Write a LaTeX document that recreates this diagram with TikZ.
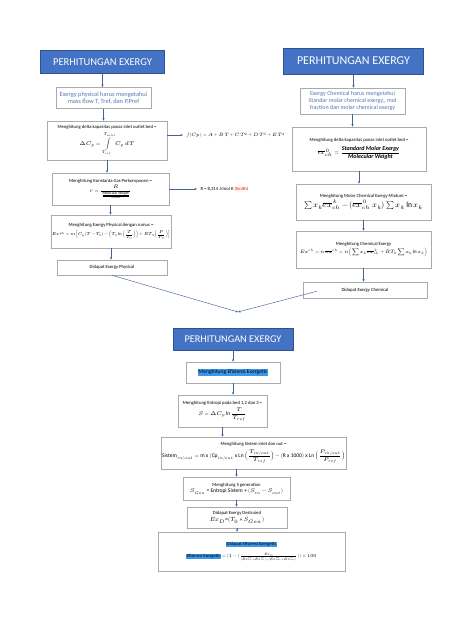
\documentclass[tikz,border=0pt]{standalone}
\usepackage{amsmath}
\usepackage{fontspec}
\usepackage{unicode-math}
\setmainfont{Carlito}
\setmathfont{Latin Modern Math}
\usetikzlibrary{positioning, arrows.meta}
\definecolor{titleblue}{RGB}{68,114,196}
\definecolor{titleedge}{RGB}{47,82,143}
\definecolor{boxedge}{RGB}{170,170,170}
\definecolor{flowblue}{RGB}{65,100,150}
\definecolor{noteblue}{RGB}{85,120,175}
\definecolor{hlblue}{RGB}{60,150,235}
\newcommand{\markhl}[1]{{\setlength{\fboxsep}{0.6pt}\colorbox{hlblue}{#1}}}
\newcommand{\exb}{\overline{ex}}

\begin{document}
\begin{tikzpicture}[x=1pt, y=-1pt, font=\fontsize{4.7}{5.8}\selectfont]
\tikzstyle{titlebox}=[draw=titleedge, fill=titleblue, text=white, inner sep=0pt]
\tikzstyle{stepbox}=[draw=boxedge, line width=0.5pt, fill=white, align=center, inner sep=1pt]
\tikzstyle{flow}=[-{Stealth[length=2.6pt,width=2.2pt]}, draw=flowblue, line width=0.45pt]
\useasboundingbox (0,0) rectangle (474,632);
% physical exergy
\node[titlebox, minimum width=124pt, minimum height=23pt, font=\fontsize{10.5}{12}\selectfont] (tL) at (102.5,62) {PERHITUNGAN EXERGY};
\node[stepbox, minimum width=95pt, minimum height=21pt, text=noteblue, font=\fontsize{6.4}{7.4}\selectfont] (L2) at (103.5,98) {Exergy physical harus mengetahui\\mass flow T, Tref, dan P,Pref};
\node[stepbox, minimum width=120pt, minimum height=39pt] (L3) at (107,140.5) {Menghitung delta kapasitas panas inlet outlet bed =\\[2pt] {\fontsize{5.5}{6.5}\selectfont $\Delta C_p = \displaystyle\int\limits_{T_{ref}}^{T_{inlet}} C_p\,dT$}};
\node[stepbox, minimum width=117pt, minimum height=32pt] (L4) at (110.5,189) {Menghitung Konstanta Gas Perkomponen =\\[1pt] {\fontsize{5.2}{6}\selectfont $r = \dfrac{R}{\frac{\underline{\text{Molecular Weight}}}{1000}}$}};
\node[stepbox, minimum width=117pt, minimum height=33pt] (L5) at (111,231.5) {Menghitung Exergy Physical dengan rumus =\\[2pt] {\fontsize{4.3}{5.5}\selectfont $Ex^{ph} = m\Big[C_p(T-T_0) - \Big(T_0\ln\Big(\dfrac{T}{T_0}\Big)\Big) + RT_0\Big(\dfrac{P}{P_0}\Big)\Big]$}};
\node[stepbox, minimum width=110pt, minimum height=15pt] (L6) at (112,267.5) {Didapat Exergy Physical};
\node (cp) at (194,135) {$\int(Cp)$};
\node (cpf) at (244,135) {$= A + B\,T + C\,T^2 + D\,T^3 + E\,T^4$};
\node[anchor=west] (rgas) at (197,189) {R = 8,314 J/mol K \textcolor{red}{(Smith)}};
\draw[flow] (tL.south) -- (tL.south |- L2.north);
\draw[flow] (L2.south) -- (L2.south |- L3.north);
\draw[flow] (L3.south) -- (L3.south |- L4.north);
\draw[flow] (L4.south) -- (L4.south |- L5.north);
\draw[flow] (L5.south) -- (L5.south |- L6.north);
\draw[flow] (L3.east |- cp) -- (cp);
\draw[flow] (L4.east |- rgas) -- (rgas);
% chemical exergy
\node[titlebox, minimum width=140pt, minimum height=26pt, font=\fontsize{12}{14}\selectfont] (tR) at (353.5,61) {PERHITUNGAN EXERGY};
\node[stepbox, minimum width=105pt, minimum height=26pt, text=noteblue, font=\fontsize{6}{7}\selectfont] (R2) at (352.5,101) {Exergy Chemical harus mengetahui\\Standar molar chemical exergy,, mol\\fraction dan molar chemical exergy};
\node[stepbox, minimum width=134pt, minimum height=44pt] (R3) at (359,149) {Menghitung delta kapasitas panas inlet outlet bed =\\[3pt] {\fontsize{6}{7}\selectfont $\exb^{\,0}_{ch} = \dfrac{\textbf{\textit{Standard Molar Exergy}}}{\textbf{\textit{Molecular Weight}}}$}};
\node[stepbox, minimum width=135pt, minimum height=36pt] (R4) at (363.5,202) {Menghitung Molar Chemical Exergy Mixture =\\[1pt] {\fontsize{7.6}{9}\selectfont $\sum x_k\exb^{\,k}_{ch} - \big(\exb^{\,0}_{ch}\;x_k\big)\sum x_k \ln x_k$}};
\node[stepbox, minimum width=135pt, minimum height=37pt] (R5) at (363.5,249.5) {Menghitung Chemical Exergy\\[1pt] {\fontsize{4.8}{6}\selectfont $Ex^{ch} = \dot{n}\,\exb^{ch} = \dot{n}\Big(\displaystyle\sum x_k\exb^{\,k}_{ch} + \bar{R}T_0\sum x_k\ln x_k\Big)$}};
\node[stepbox, minimum width=124pt, minimum height=16pt] (R6) at (365,290) {Didapat Exergy Chemical};
\draw[flow] (tR.south) -- (tR.south |- R2.north);
\draw[flow] (R2.south) -- (R2.south |- R3.north);
\draw[flow] (R3.south) -- (R3.south |- R4.north);
\draw[flow] (R4.south) -- (R4.south |- R5.north);
\draw[flow] (R5.south) -- (R5.south |- R6.north);
% both results go to the efficiency part
\coordinate (merge) at (238,312);
\draw[flow] (L6.south) -- (merge);
\draw[flow] ([xshift=14pt,yshift=7pt]R6.south west) -- (merge);
% exergetic efficiency
\node[titlebox, minimum width=120pt, minimum height=22pt, font=\fontsize{10.3}{12}\selectfont] (tC) at (233,339) {PERHITUNGAN EXERGY};
\node[stepbox, minimum width=94pt, minimum height=21pt, font=\fontsize{5.6}{6.6}\selectfont] (C2) at (233,372.5) {\markhl{Menghitung Efisiensi Exergetic}};
\node[stepbox, minimum width=89pt, minimum height=32pt] (C3) at (222.5,411) {Menghitung Entropi pada bed 1,2 dan 3 =\\[2pt] {\fontsize{5.5}{6.5}\selectfont $S = \Delta C_p \ln \dfrac{T}{T_{ref}}$}};
\node[stepbox, minimum width=181pt, minimum height=32pt] (C4) at (253.5,453) {Menghitung Sistem inlet dan out =\\[2pt] {\fontsize{5.5}{7}\selectfont $\mathrm{Sistem}_{in/out} = \mathrm{m\ x\ (Cp}_{in/out}\ \mathrm{x\ Ln}\,\Big(\dfrac{T_{in/out}}{T_{ref}}\Big) - \mathrm{(R\ x\ 1000)\ x\ Ln}\,\Big(\dfrac{P_{in/out}}{P_{ref}}\Big)$}};
\node[stepbox, minimum width=107pt, minimum height=23pt] (C5) at (236.5,488.5) {Menghitung S generation\\[1pt] {\fontsize{5.5}{6.5}\selectfont $S_{Gen}$ = Entropi Sistem + $(S_{in} - S_{out})$}};
\node[stepbox, minimum width=100pt, minimum height=21pt] (C6) at (237,517.5) {Didapat Exergy Destruied\\[1pt] {\fontsize{6}{7}\selectfont $Ex_D$=$(T_0 * S_{Gen})$}};
\node[stepbox, minimum width=187pt, minimum height=39pt] (C7) at (251.5,551.5) {\markhl{Didapat Efisiensi Exergetic}\\[5pt] \markhl{Efisiensi Exergetic} $= (1-(\frac{Ex_D}{(Ex^{ph}_{in} + Ex^{ch}_{in}) - (Ex^{ph}_{out} + Ex^{ch}_{out})})) \times 100$};
\draw[flow] (tC.south) -- (tC.south |- C2.north);
\draw[flow] (C2.south) -- (C2.south |- C3.north);
\draw[flow] (C3.south) -- (C3.south |- C4.north);
\draw[flow] (C5.north |- C4.south) -- (C5.north);
\draw[flow] (C5.south) -- (C5.south |- C6.north);
\draw[flow] (C6.south) -- (C6.south |- C7.north);
\end{tikzpicture}
\end{document}
